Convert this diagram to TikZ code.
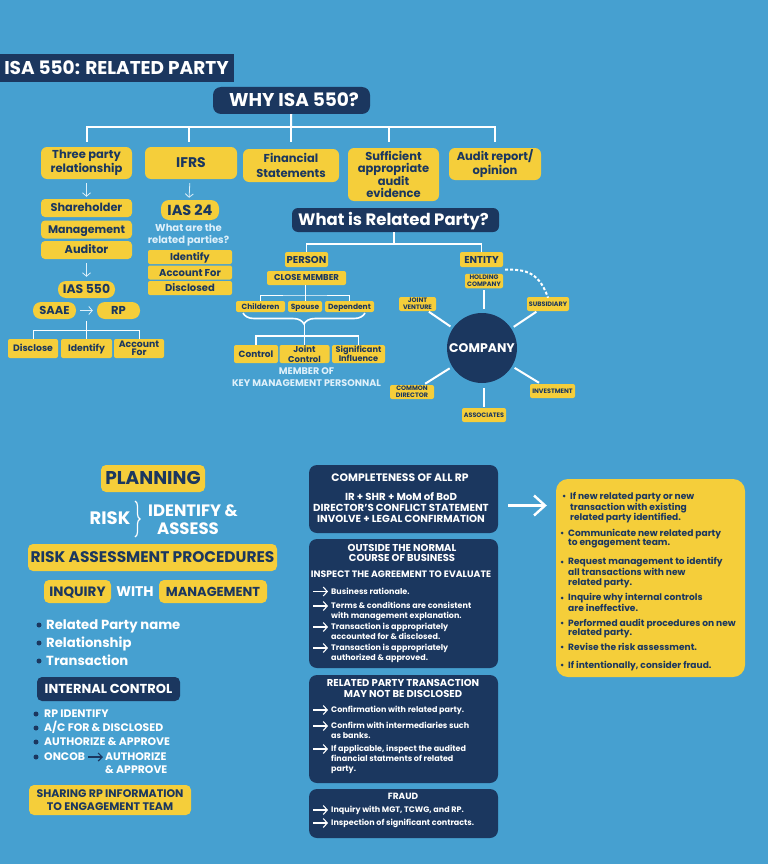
\documentclass[tikz,border=0pt]{standalone}
\usepackage{fontspec}
\setmainfont{Poppins}
\usetikzlibrary{arrows.meta,decorations.pathreplacing}
\definecolor{skyback}{RGB}{70,160,208}
\definecolor{navy}{RGB}{27,55,95}
\definecolor{sun}{RGB}{245,206,58}
\definecolor{pale}{RGB}{222,240,250}

\begin{document}
\begin{tikzpicture}[x=1pt, y=-1pt,
	tsize/.style 2 args={font=\bfseries\fontsize{#1}{#2}\selectfont},
	oline/.style={font=\bfseries\fontsize{#1}{#1}\selectfont, text height=#1*0.7pt, text depth=0pt},
	wh/.style 2 args={minimum width=#1pt, minimum height=#2pt},
	ybox/.style={fill=sun, text=navy, inner sep=0pt, rounded corners=4pt, align=center},
	nbox/.style={fill=navy, text=white, inner sep=0pt, rounded corners=8pt, align=center},
	wtext/.style={text=white, inner sep=0pt, align=center},
	ptext/.style={text=pale, inner sep=0pt, align=center},
	ltext/.style={text=white, inner sep=0pt, align=left, anchor=north west, tsize={8}{10}},
	ytext/.style={text=navy, inner sep=0pt, align=left, anchor=north west, tsize={9.1}{9.3}},
	dot/.style={circle, fill=navy, inner sep=0pt, minimum size=#1pt},
	link/.style={white, line width=1pt},
	barlink/.style={white, line width=2pt},
	thinarrow/.style={->, >={Straight Barb[length=3.5pt,width=8pt]}, pale, line width=0.8pt},
	itemarrow/.style={->, >={Straight Barb[length=4pt,width=9pt]}, white, line width=1.1pt}]

	\useasboundingbox (0,0) rectangle (768,864);
	\fill[skyback] (0,0) rectangle (768,864);

	% title and first row
	\node[nbox, rounded corners=0pt, wh={234}{28}, oline=18.5] (title) at (117,68) {ISA 550: RELATED PARTY\hspace*{1pt}};
	\node[nbox, wh={157}{27}, oline=18.5] (why) at (291.5,100.5) {\hspace*{5pt}WHY ISA 550?};
	\node[ybox, rounded corners=6pt, wh={91}{32}, tsize={11.5}{14}] (three) at (86.5,163) {Three party\\relationship};
	\node[ybox, rounded corners=6pt, wh={92}{32}, oline=14] (ifrs) at (191,163) {IFRS};
	\node[ybox, rounded corners=6pt, wh={96}{33}, tsize={11.5}{14.5}] (financial) at (291,165.5) {Financial\\Statements};
	\node[ybox, rounded corners=6pt, wh={91}{53}, tsize={11.5}{12.5}] (sufficient) at (393.5,174.5) {Sufficient\\appropriate\\audit\\evidence};
	\node[ybox, rounded corners=6pt, wh={92}{32}, tsize={11.5}{14}] (audit) at (495,164) {Audit report/\\opinion};

	\coordinate (topbar) at (291,127.5);
	\draw[barlink] (why) -- (topbar);
	\draw[barlink, shorten >=7pt] (topbar) -- (financial.north);
	\draw[barlink, shorten <=5pt] (three.north) |- (topbar);
	\draw[barlink, shorten <=5pt] ([xshift=-2pt]ifrs.north) |- (topbar);
	\draw[barlink, shorten >=6pt] (topbar) -| (audit.north);
	\draw[barlink, shorten <=6pt] ([xshift=-4.5pt]sufficient.north) |- (topbar);

	% three party column
	\node[ybox, wh={91}{18}, oline=11.3] (shareholder) at (86.5,208) {Shareholder};
	\node[ybox, wh={91}{18}, oline=11] (management) at (86.5,229.5) {Management};
	\node[ybox, wh={91}{18}, oline=11.3] (auditor) at (86.5,250) {Auditor};
	\node[ybox, rounded corners=8pt, wh={57}{17}, oline=12.4] (ias550) at (86.5,289.5) {IAS 550};
	\node[ybox, rounded corners=8pt, wh={43}{17}, oline=11.5] (saae) at (54.5,310.5) {SAAE};
	\node[ybox, rounded corners=8pt, wh={43}{17}, oline=11.5] (rp) at (118.5,310.5) {RP};
	\node[ybox, rounded corners=2pt, wh={50}{19}, oline=9.3] (disclose) at (33,348.5) {Disclose};
	\node[ybox, rounded corners=2pt, wh={51}{19}, oline=9.3] (identify) at (86.5,348.5) {Identify};
	\node[ybox, rounded corners=2pt, wh={50}{19}, tsize={9.3}{8}] (accountfor) at (139,348.5) {Account\\For};

	\path[thinarrow, shorten <=4pt, shorten >=2pt] (three) edge (shareholder);
	\path[thinarrow, shorten <=4pt, shorten >=4pt] (auditor) edge (ias550);
	\path[thinarrow, shorten <=4pt, shorten >=4pt] (saae) edge (rp);
	\coordinate (forktop) at (86.5,321);
	\coordinate (forkbar) at (86.5,330.5);
	\draw[link] (forktop) -- (identify);
	\draw[link] (disclose.north) |- (forkbar) -| (accountfor.north);

	% IFRS column
	\node[ybox, rounded corners=8pt, wh={58}{20}, oline=14.5] (ias24) at (190,210) {IAS 24};
	\node[ptext, tsize={10}{12.5}] (question) at (188.5,235) {What are the\\related parties?};
	\node[ybox, rounded corners=2pt, wh={84}{14}, oline=10] (rpidentify) at (190,257) {Identify};
	\node[ybox, rounded corners=2pt, wh={84}{14}, oline=10] (rpaccount) at (190,272.5) {Account For};
	\node[ybox, rounded corners=2pt, wh={84}{14}, oline=10] (rpdisclosed) at (190,288) {Disclosed};
	\path[thinarrow, shorten <=4pt, shorten >=2pt] ([xshift=-1pt]ifrs.south) edge ([xshift=-1pt]ias24.north);

	% related party tree
	\node[nbox, rounded corners=6pt, wh={207}{24}, oline=16.5] (whatrp) at (395.5,220) {What is Related Party?\hspace*{4pt}};
	\node[ybox, rounded corners=2pt, wh={43}{15}, oline=10] (person) at (306.5,259.5) {PERSON};
	\node[ybox, rounded corners=2pt, wh={43}{15}, oline=10] (entity) at (481.5,259.5) {ENTITY};
	\coordinate (rpbar) at (394,244);
	\draw[link, line width=1.4pt] (whatrp.south -| rpbar) -- (rpbar);
	\draw[link, line width=1.4pt] (person.north) |- (rpbar) -| (entity.north);

	\node[ybox, rounded corners=2pt, wh={79}{14}, oline=8.5] (closemember) at (306.5,278) {CLOSE MEMBER};
	\node[ybox, rounded corners=2pt, wh={49}{11}, oline=7.5] (childeren) at (260.5,306.5) {Childeren};
	\node[ybox, rounded corners=2pt, wh={34}{11}, oline=7.5] (spouse) at (305,306.5) {Spouse};
	\node[ybox, rounded corners=2pt, wh={49}{11}, oline=7.5] (dependent) at (349.5,306.5) {Dependent};
	\coordinate (closebar) at (305,295);
	\draw[link] (closemember.south -| closebar) -- (spouse.north);
	\draw[link] (childeren.north) |- (closebar) -| (dependent.north);
	\draw[white, line width=1.6pt, decorate, decoration={brace, amplitude=11pt}] (365,313) -- (243,313);

	\node[ybox, rounded corners=2pt, wh={44}{18}, oline=9] (control) at (256,354) {Control};
	\node[ybox, rounded corners=2pt, wh={50}{18}, tsize={8.5}{9.5}] (jointctl) at (304.5,354) {Joint\\Control};
	\node[ybox, rounded corners=2pt, wh={53}{18}, tsize={8.2}{9}] (significant) at (358.5,354) {Significant\\Influence};
	\coordinate (bracetip) at (304.5,322);
	\coordinate (ctlbar) at (304.5,336);
	\draw[white, line width=1.6pt] (bracetip) -- (jointctl.north);
	\draw[white, line width=1.6pt] (control.north) |- (ctlbar) -| (significant.north);
	\node[ptext, tsize={9.6}{12}] (kmp) at (306.5,377) {MEMBER OF\\KEY MANAGEMENT PERSONNAL};

	% company
	\node[nbox, circle, minimum size=70pt, tsize={12.5}{14}] (company) at (482,348) {COMPANY};
	\node[ybox, rounded corners=2pt, wh={38}{14.5}, tsize={6.4}{6.8}] (holding) at (484,281) {HOLDING\\COMPANY};
	\node[ybox, rounded corners=2pt, wh={37}{14}, tsize={6.4}{6.8}] (venture) at (417.5,304) {JOINT\\VENTURE};
	\node[ybox, rounded corners=2pt, wh={42}{14}, oline=6.4] (subsidiary) at (548,304) {SUBSIDIARY};
	\node[ybox, rounded corners=2pt, wh={44}{14}, tsize={6.4}{6.8}] (director) at (412,392) {COMMON\\DIRECTOR};
	\node[ybox, rounded corners=2pt, wh={45}{14}, oline=6.4] (investment) at (552.5,391) {INVESTMENT};
	\node[ybox, rounded corners=2pt, wh={44}{14}, oline=6.4] (associates) at (484,415) {ASSOCIATES};
	\draw[barlink, shorten <=2pt, shorten >=4pt] (holding.south) -- (holding.south |- company.north);
	\draw[barlink, shorten <=3pt, shorten >=1pt] (company) -- (venture);
	\draw[barlink, shorten <=3pt, shorten >=1pt] (company) -- (subsidiary);
	\draw[barlink, shorten <=3pt, shorten >=2pt] (company) -- (director);
	\draw[barlink, shorten <=3pt, shorten >=2pt] (company) -- (investment);
	\draw[barlink, shorten <=1pt, shorten >=5pt] (associates.north) -- (associates.north |- company.south);
	\draw[barlink, dashed, dash pattern=on 3pt off 2pt] ([xshift=2pt,yshift=4pt]holding.north east) .. controls (520,270) and (538,268) .. ([yshift=-1pt]subsidiary.north);

	% planning column
	\node[ybox, rounded corners=5pt, wh={104}{27}, oline=18.5] (planning) at (153,478.5) {PLANNING};
	\node[wtext, oline=18] (risk) at (110,518) {RISK};
	\node[wtext, tsize={16.5}{18}] (idassess) at (193,520) {IDENTIFY \&\\ASSESS\hspace*{10pt}};
	\draw[link, line width=1.2pt, decorate, decoration={brace, amplitude=5pt}] (135,501) -- (135,537);
	\node[ybox, rounded corners=5pt, wh={249}{27}, oline=15.4] (rap) at (152.5,557.5) {RISK ASSESSMENT PROCEDURES};
	\node[ybox, rounded corners=5pt, wh={67}{23}, oline=13.5] (inquiry) at (77.5,591.5) {INQUIRY};
	\node[wtext, oline=14] (with) at (135,591.5) {WITH};
	\node[ybox, rounded corners=5pt, wh={108}{23}, oline=13] (mgmt) at (213,591.5) {MANAGEMENT};

	\node[dot=5] (d1) at (39,625) {};
	\node[dot=5] (d2) at (39,643) {};
	\node[dot=5] (d3) at (39,661) {};
	\node[wtext, anchor=west, oline=13.2] (rpname) at (46,625) {Related Party name};
	\node[wtext, anchor=west, oline=13.2] (relation) at (46,643) {Relationship};
	\node[wtext, anchor=west, oline=13.2] (transact) at (46,661) {Transaction};

	\node[nbox, rounded corners=5pt, wh={143}{24}, oline=13] (internal) at (108.5,689) {INTERNAL CONTROL};
	\node[dot=5] (c1) at (36,714) {};
	\node[dot=5] (c2) at (36,728) {};
	\node[dot=5] (c3) at (36,742) {};
	\node[dot=5] (c4) at (36,757) {};
	\node[wtext, anchor=west, oline=10.9] (crp) at (44,714) {RP IDENTIFY};
	\node[wtext, anchor=west, oline=10.9] (cac) at (44,728) {A/C FOR \& DISCLOSED};
	\node[wtext, anchor=west, oline=10.9] (cauth) at (44,742) {AUTHORIZE \& APPROVE};
	\node[wtext, anchor=west, oline=10.9] (concob) at (44,757) {ONCOB};
	\node[wtext, anchor=north west, align=left, tsize={10.9}{12.5}] (cappr) at (105,753) {AUTHORIZE\\\& APPROVE};
	\path[->, >={Straight Barb[length=4pt,width=8pt]}, navy, line width=1.2pt, shorten <=3pt, shorten >=2pt] (concob.east) edge (concob.east -| cappr.west);
	\node[ybox, rounded corners=5pt, wh={162}{30}, tsize={11}{13.5}] (sharing) at (110,800) {SHARING RP INFORMATION\\TO ENGAGEMENT TEAM};

	% navy boxes
	\node[nbox, wh={189}{68}] (bcomplete) at (403.5,499) {};
	\node[nbox, wh={189}{129}] (boutside) at (403.5,603.5) {};
	\node[nbox, wh={189}{108}] (bdisclose) at (403.5,729) {};
	\node[nbox, wh={189}{49}] (bfraud) at (403.5,813.5) {};

	\node[wtext, oline=10.8] (t1) at (400,478) {COMPLETENESS OF ALL RP};
	\node[wtext, tsize={10.2}{11}] (t2) at (401,508) {IR + SHR + MoM of BoD\\DIRECTOR'S CONFLICT STATEMENT\\INVOLVE + LEGAL CONFIRMATION};
	\node[wtext, tsize={10}{10.5}] (t3) at (402,553) {OUTSIDE THE NORMAL\\COURSE OF BUSINESS};
	\node[wtext, oline=9.3] (t4) at (401,574) {INSPECT THE AGREEMENT TO EVALUATE};
	\node[ltext] (a1) at (331,587.5) {Business rationale.};
	\node[ltext] (a2) at (331,602) {Terms \& conditions are consistent\\with management explanation.};
	\node[ltext] (a3) at (331,623) {Transaction is appropriately\\accounted for \& disclosed.};
	\node[ltext] (a4) at (331,644) {Transaction is appropriately\\authorized \& approved.};
	\node[wtext, tsize={10}{10.5}] (t5) at (403,688.5) {RELATED PARTY TRANSACTION\\MAY NOT BE DISCLOSED};
	\node[ltext] (b1) at (331,706) {Confirmation with related party.};
	\node[ltext] (b2) at (331,722) {Confirm with intermediaries such\\as banks.};
	\node[ltext] (b3) at (331,745) {If applicable, inspect the audited\\financial statments of related\\party.};
	\node[wtext, oline=9] (t6) at (403,796) {FRAUD};
	\node[ltext] (f1) at (331,806) {Inquiry with MGT, TCWG, and RP.};
	\node[ltext] (f2) at (331,819) {Inspection of significant contracts.};

	\path[itemarrow] ([xshift=-18pt,yshift=-4pt]a1.north west) edge ([xshift=-3pt,yshift=-4pt]a1.north west);
	\path[itemarrow] ([xshift=-18pt,yshift=-4pt]a2.north west) edge ([xshift=-3pt,yshift=-4pt]a2.north west);
	\path[itemarrow] ([xshift=-18pt,yshift=-4pt]a3.north west) edge ([xshift=-3pt,yshift=-4pt]a3.north west);
	\path[itemarrow] ([xshift=-18pt,yshift=-4pt]a4.north west) edge ([xshift=-3pt,yshift=-4pt]a4.north west);
	\path[itemarrow] ([xshift=-18pt,yshift=-4pt]b1.north west) edge ([xshift=-3pt,yshift=-4pt]b1.north west);
	\path[itemarrow] ([xshift=-18pt,yshift=-4pt]b2.north west) edge ([xshift=-3pt,yshift=-4pt]b2.north west);
	\path[itemarrow] ([xshift=-18pt,yshift=-4pt]b3.north west) edge ([xshift=-3pt,yshift=-4pt]b3.north west);
	\path[itemarrow] ([xshift=-18pt,yshift=-4pt]f1.north west) edge ([xshift=-3pt,yshift=-4pt]f1.north west);
	\path[itemarrow] ([xshift=-18pt,yshift=-4pt]f2.north west) edge ([xshift=-3pt,yshift=-4pt]f2.north west);

	% yellow note
	\node[ybox, rounded corners=12pt, wh={189}{198}] (note) at (650.5,578) {};
	\draw[->, >={Straight Barb[length=11pt,width=20pt]}, white, line width=2.4pt, shorten <=10pt, shorten >=9pt] ([yshift=-6.5pt]bcomplete.east) -- ([yshift=-6.5pt]bcomplete.east -| note.west);

	\node[dot=3] (n1) at (564,496) {};
	\node[dot=3] (n2) at (562,533) {};
	\node[dot=3] (n3) at (562,562) {};
	\node[dot=3] (n4) at (562,598) {};
	\node[dot=3] (n5) at (562,623) {};
	\node[dot=3] (n6) at (562,647) {};
	\node[dot=3] (n7) at (562,665) {};
	\node[ytext] (y1) at (570,492) {If new related party or new\\transaction with existing\\related party identified.};
	\node[ytext] (y2) at (568,529) {Communicate new related party\\to engagement team.};
	\node[ytext] (y3) at (568,557.5) {Request management to identify\\all transactions with new\\related party.};
	\node[ytext] (y4) at (568,593.5) {Inquire why internal controls\\are ineffective.};
	\node[ytext] (y5) at (568,619) {Performed audit procedures on new\\related party.};
	\node[ytext] (y6) at (568,643) {Revise the risk assessment.};
	\node[ytext] (y7) at (568,661) {If intentionally, consider fraud.};
\end{tikzpicture}
\end{document}
